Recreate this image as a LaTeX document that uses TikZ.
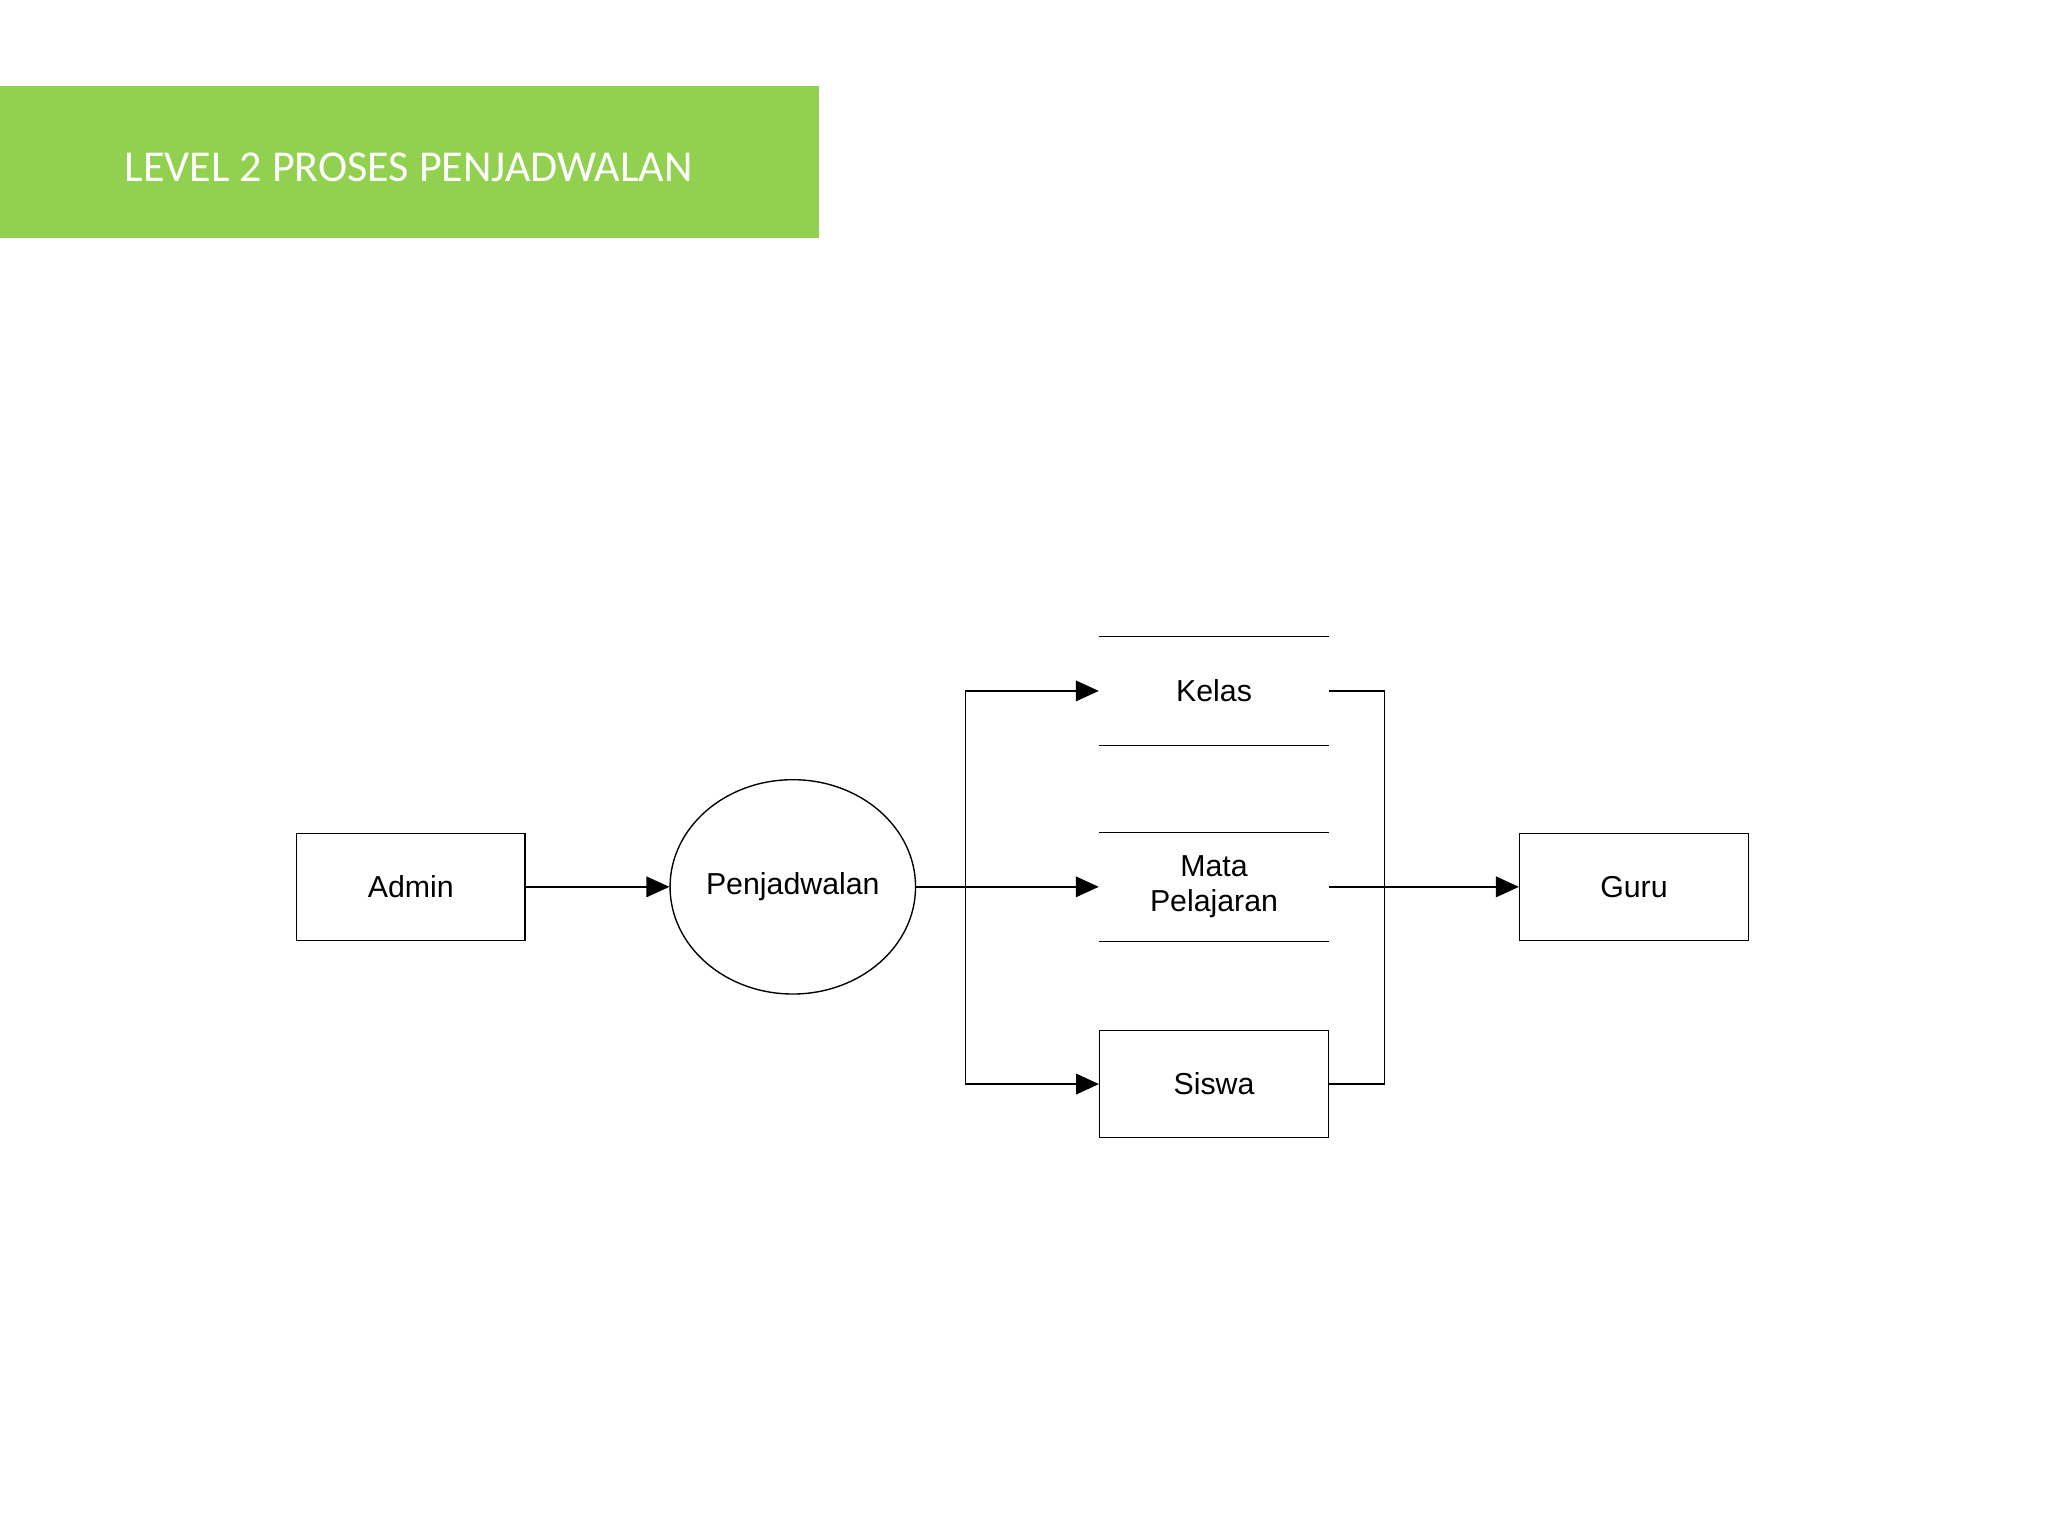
\documentclass[tikz,border=0pt]{standalone}
\usepackage{fontspec}
\setmainfont{Liberation Sans}
\newfontfamily\titlefont{Carlito}
\usetikzlibrary{arrows.meta,shapes.geometric}
\definecolor{bannergreen}{RGB}{146,208,80}
\begin{document}
\begin{tikzpicture}[x=0.01cm,y=-0.01cm,
  ent/.style={draw,line width=0.3pt,minimum width=1.75cm,minimum height=0.82cm,inner sep=0pt,font=\fontsize{6.6}{7.6}\selectfont,align=center},
  store/.style={minimum width=1.75cm,minimum height=0.82cm,inner sep=0pt,font=\fontsize{6.6}{7.6}\selectfont,align=center},
  flow/.style={line width=0.3pt,-{Triangle[length=5pt,width=4.5pt]}},
  line/.style={line width=0.3pt}]
\useasboundingbox (0,0) rectangle (1568,1176);
\fill[bannergreen] (0,66) rectangle (627,182);
\node[text=white,font=\titlefont\fontsize{9.6}{11}\selectfont] (title) at (313,128) {LEVEL 2 PROSES PENJADWALAN};
\node[ent] (admin) at (314.5,679) {Admin};
\node[draw,ellipse,line width=0.3pt,minimum width=1.75cm,minimum height=1.64cm,inner sep=0pt,font=\fontsize{6.6}{7.6}\selectfont] (proc) at (607,679) {Penjadwalan};
\node[store] (kelas) at (929.5,529) {Kelas};
\node[store] (mapel) at (929.5,679) {Mata\\Pelajaran};
\node[ent] (siswa) at (929.5,830) {Siswa};
\node[ent] (guru) at (1251,679) {Guru};
\draw[line] (kelas.north west)--(kelas.north east) (kelas.south west)--(kelas.south east);
\draw[line] (mapel.north west)--(mapel.north east) (mapel.south west)--(mapel.south east);
\coordinate (bl) at (739,679);
\coordinate (br) at (1060,679);
\draw[flow] (admin) -- (proc);
\draw[flow] (proc) -- (mapel);
\draw[flow] (bl) |- (kelas.west);
\draw[flow] (bl) |- (siswa.west);
\draw[line] (kelas.east) -| (br) |- (siswa.east);
\draw[flow] (mapel) -- (guru);
\end{tikzpicture}
\end{document}
